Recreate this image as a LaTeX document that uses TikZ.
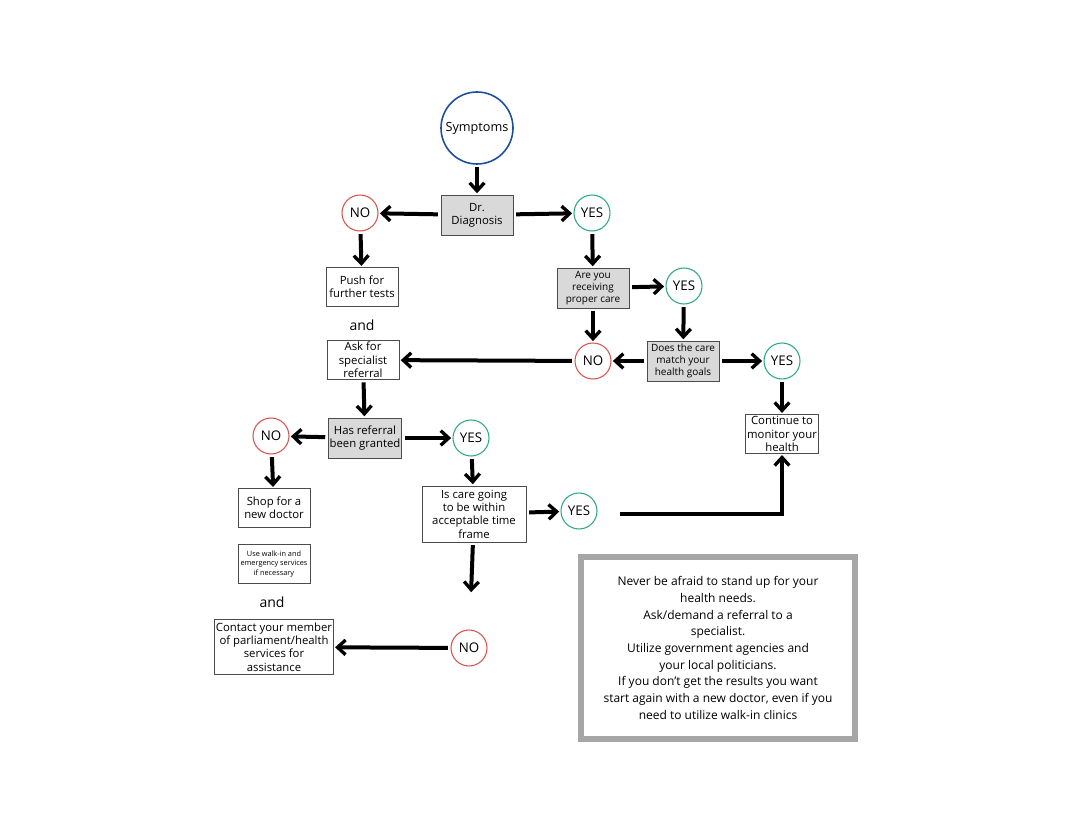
\documentclass[tikz,border=0pt]{standalone}
\usepackage{fontspec}
\setmainfont{Open Sans}
\usetikzlibrary{arrows.meta}
\definecolor{noRed}{HTML}{D9534F}
\definecolor{yesGreen}{HTML}{2EAA80}
\definecolor{symBlue}{HTML}{1F4E9C}
\definecolor{boxGray}{HTML}{D9D9D9}
\definecolor{frameGray}{HTML}{A6A6A6}
\begin{document}
\begin{tikzpicture}[x=0.75pt,y=-0.75pt,
  txt/.style={font=\fontsize{8.5}{10}\selectfont,align=center,inner sep=1pt},
  qbox/.style={txt,draw=black!70,fill=boxGray,line width=0.6pt,minimum width=54pt,minimum height=30pt},
  wbox/.style={txt,draw=black!70,fill=white,line width=0.6pt,minimum width=54pt,minimum height=29pt},
  nocirc/.style={circle,draw=noRed,line width=0.8pt,minimum size=27pt,inner sep=0pt,font=\fontsize{10}{12}\selectfont},
  yescirc/.style={circle,draw=yesGreen,line width=0.8pt,minimum size=27pt,inner sep=0pt,font=\fontsize{10}{12}\selectfont},
  arr/.style={line width=3pt,-{Straight Barb[length=6pt,width=11pt,line width=2.5pt]},shorten >=1pt,shorten <=2pt}]
\useasboundingbox (0,0) rectangle (1080,834);
\node[circle,draw=symBlue,line width=1.2pt,minimum size=54pt,inner sep=0pt,font=\fontsize{9.5}{11}\selectfont] (sym) at (477,128) {Symptoms};
\node[qbox] (dx) at (477,215) {Dr.\\Diagnosis};
\node[nocirc] (no1) at (360,213) {NO};
\node[yescirc] (yes1) at (592,213) {YES};
\node[wbox] (push) at (362,287) {Push for\\further tests};
\node[font=\fontsize{10.5}{12}\selectfont] (and1) at (362,325) {and};
\node[wbox] (ask) at (363,360) {Ask for\\specialist\\referral};
\node[qbox,font=\fontsize{7.5}{9}\selectfont] (recv) at (593,288) {Are you\\receiving\\proper care};
\node[yescirc] (yes2) at (684,286) {YES};
\node[nocirc] (no2) at (593,361) {NO};
\node[qbox,font=\fontsize{7.5}{9}\selectfont] (goals) at (683,361) {Does the care\\match your\\health goals};
\node[yescirc] (yes3) at (782,361) {YES};
\node[wbox] (cont) at (782,434) {Continue to\\monitor your\\health};
\node[qbox] (ref) at (365,438) {Has referral\\been granted};
\node[nocirc] (no3) at (271,436) {NO};
\node[yescirc] (yes4) at (471,438) {YES};
\node[wbox] (shop) at (274,508) {Shop for a\\new doctor};
\node[wbox,font=\fontsize{5.5}{7}\selectfont] (walk) at (274,564) {Use walk-in and\\emergency services\\if necessary};
\node[font=\fontsize{10.5}{12}\selectfont] (and2) at (272,602) {and};
\node[wbox,minimum width=78pt,minimum height=41pt] (contact) at (274,647) {Contact your member\\of parliament/health\\services for\\assistance};
\node[wbox,minimum width=78pt,minimum height=42pt] (time) at (474,514) {Is care going\\to be within\\acceptable time\\frame};
\node[yescirc] (yes5) at (579,511) {YES};
\node[nocirc] (no4) at (469,648) {NO};
\node[draw=frameGray,line width=4.5pt,minimum width=205pt,minimum height=136pt,align=center,font=\fontsize{9}{12.5}\selectfont] (tip) at (718,648)
 {Never be afraid to stand up for your\\health needs.\\Ask/demand a referral to a\\specialist.\\Utilize government agencies and\\your local politicians.\\If you don’t get the results you want\\start again with a new doctor, even if you\\need to utilize walk-in clinics};
\coordinate (corner) at (782,514);
\draw[arr] (sym) -- (dx);
\draw[arr] (dx) -- (no1);
\draw[arr] (dx) -- (yes1);
\draw[arr] (no1) -- (push);
\draw[arr] (yes1) -- (recv);
\draw[arr] (recv) -- (yes2);
\draw[arr] (recv) -- (no2);
\draw[arr] (yes2) -- (goals);
\draw[arr] (goals) -- (no2);
\draw[arr] (goals) -- (yes3);
\draw[arr] (yes3) -- (cont);
\draw[arr] (no2) -- (ask);
\draw[arr] (ask) -- (ref);
\draw[arr] (ref) -- (no3);
\draw[arr] (ref) -- (yes4);
\draw[arr] (no3) -- (shop);
\draw[arr] (yes4) -- (time);
\draw[arr] (time) -- (yes5);
\draw[arr,shorten >=28pt] (time) -- (no4);
\draw[arr] (no4) -- (contact);
\draw[arr] (yes5.east) ++(20,3) -- (corner) -- (cont.south);
\end{tikzpicture}
\end{document}
